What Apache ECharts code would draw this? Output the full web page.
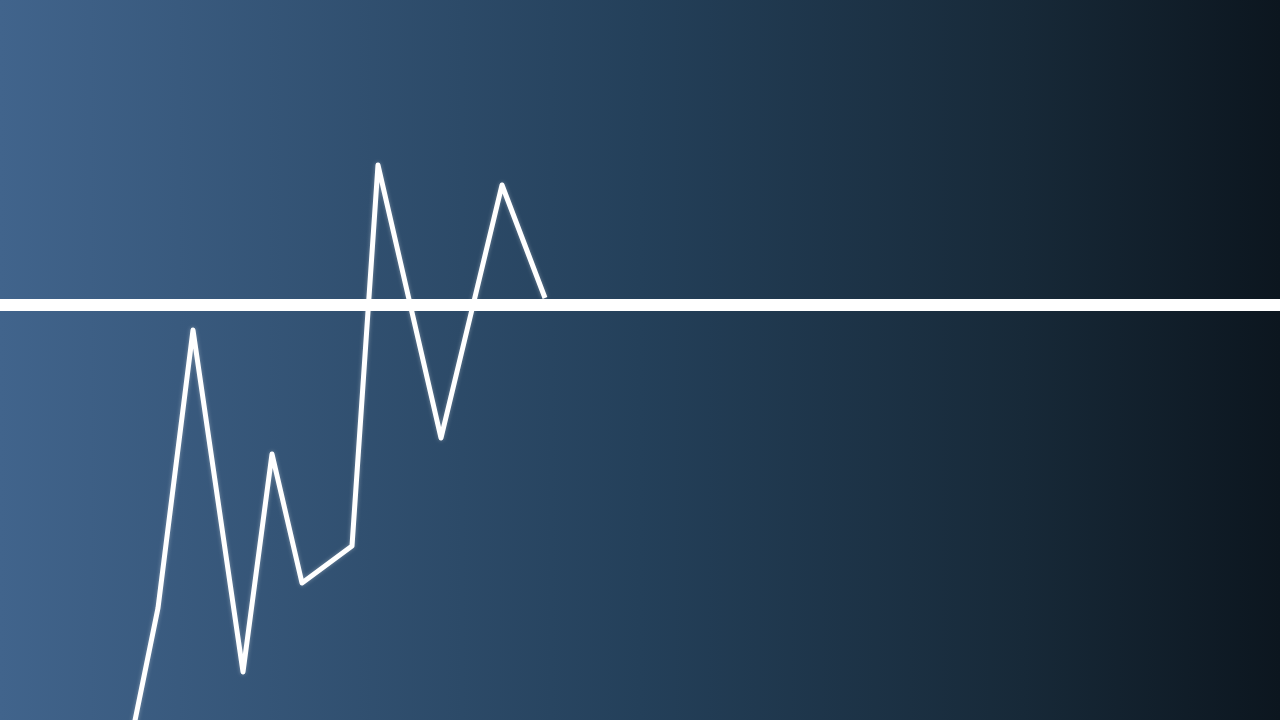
<!DOCTYPE html>
<html>
<head>
<meta charset="utf-8">
<script src="https://cdn.jsdelivr.net/npm/echarts@6/dist/echarts.min.js"></script>
<style>html,body{margin:0;padding:0;width:1280px;height:720px;overflow:hidden;}#c{width:1280px;height:720px;}</style>
</head>
<body>
<div id="c"></div>
<script>
// data (x: time units, y: value units)
const timeValues = [13.1, 15.8, 19.3, 24.3, 27.2, 30.2, 35.2, 37.8, 44.1, 50.2, 54.5];
const seriesValues = [-2.0, 11.2, 39.0, 4.8, 26.6, 13.7, 17.4, 55.5, 28.2, 53.5, 42.2];
const thresholdValue = 41.5;

const chart = echarts.init(document.getElementById('c'));
const pts = timeValues.map((t, i) => [t, seriesValues[i]]);
chart.setOption({
  animation: false,
  backgroundColor: {
    type: 'linear', x: 0, y: 0, x2: 1, y2: 0,
    colorStops: [
      { offset: 0, color: '#41648c' },
      { offset: 0.5, color: '#24405a' },
      { offset: 0.8, color: '#172938' },
      { offset: 1, color: '#0c161f' }
    ]
  },
  grid: { left: 0, right: 0, top: 0, bottom: 0 },
  xAxis: { type: 'value', min: 0, max: 128, show: false },
  yAxis: { type: 'value', min: 0, max: 72, show: false },
  series: [{
    type: 'line',
    data: pts,
    symbol: 'none',
    clip: true,
    lineStyle: { color: '#ffffff', width: 5, join: 'round', shadowColor: 'rgba(255,255,255,0.35)', shadowBlur: 4 },
    markLine: {
      silent: true,
      symbol: 'none',
      label: { show: false },
      lineStyle: { color: '#ffffff', width: 12, type: 'solid' },
      data: [{ yAxis: thresholdValue }]
    }
  }]
});
</script>
</body>
</html>
